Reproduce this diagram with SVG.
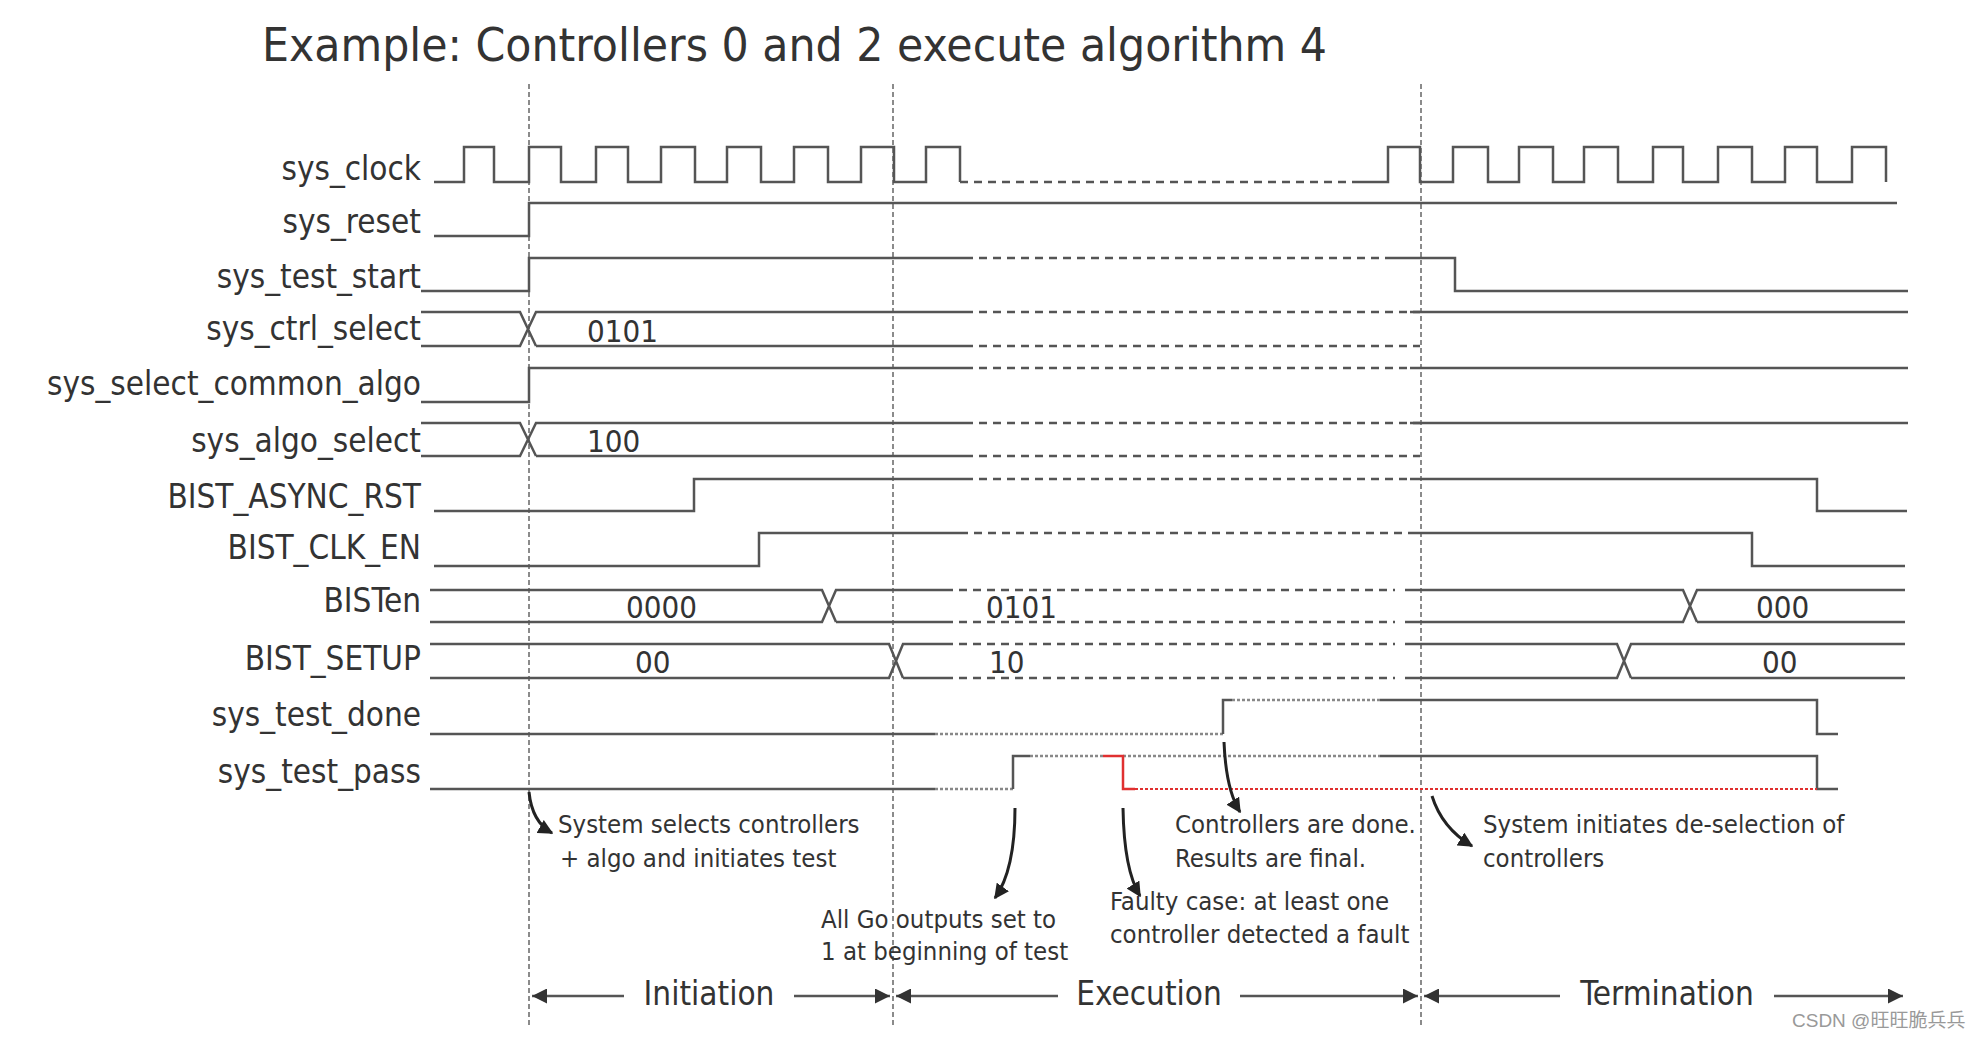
<svg xmlns="http://www.w3.org/2000/svg" width="1978" height="1038" viewBox="0 0 1978 1038">
<style>
.lbl{font-family:"DejaVu Sans Condensed","DejaVu Sans",sans-serif;font-size:33px;fill:#333;text-anchor:end}
.val{font-family:"DejaVu Sans Condensed","DejaVu Sans",sans-serif;font-size:31px;fill:#333}
.note{font-family:"DejaVu Sans Condensed","DejaVu Sans",sans-serif;font-size:25.5px;fill:#333}
.ph{font-family:"DejaVu Sans Condensed","DejaVu Sans",sans-serif;font-size:33px;fill:#333}
.s{fill:none;stroke:#555;stroke-width:2.5}
.d{fill:none;stroke:#555;stroke-width:2.5;stroke-dasharray:8 6}
.r{fill:none;stroke:#e03030;stroke-width:2.5}
.rd{fill:none;stroke:#e03030;stroke-width:2;stroke-dasharray:3 2}
.dt{fill:none;stroke:#888;stroke-width:2.5;stroke-dasharray:3 2}
.v{fill:none;stroke:#666;stroke-width:1.5;stroke-dasharray:5 3}
.a{fill:none;stroke:#222;stroke-width:3}
</style>
<defs>
<marker id="ah" viewBox="0 0 10 10" refX="9" refY="5" markerWidth="5" markerHeight="5" orient="auto"><path d="M0,0 L10,5 L0,10 z" fill="#222"/></marker>
<marker id="pa" viewBox="0 0 10 10" refX="10" refY="5" markerWidth="6" markerHeight="6" orient="auto"><path d="M0,0 L10,5 L0,10 z" fill="#333"/></marker>
</defs>
<text x="262" y="61" font-family="DejaVu Sans Condensed,DejaVu Sans,sans-serif" font-size="46" fill="#333" textLength="1065" lengthAdjust="spacingAndGlyphs">Example: Controllers 0 and 2 execute algorithm 4</text>
<g id="guides">
<line class="v" x1="529" y1="84" x2="529" y2="1025"/>
<line class="v" x1="893" y1="84" x2="893" y2="1025"/>
<line class="v" x1="1421" y1="84" x2="1421" y2="1025"/>
</g>
<g id="sys_clock">
<text class="lbl" x="421" y="180">sys_clock</text>
<path class="s" d="M434,182 H464 V147 H494 V182 H529 V147 H561 V182 H596 V147 H628 V182 H661 V147 H695 V182 H727 V147 H761 V182 H794 V147 H828 V182 H861 V147 H894 V182 H926 V147 H960 V182"/>
<path class="d" d="M960,182 H1360"/>
<path class="s" d="M1360,182 H1388 V147 H1420 V182 H1453 V147 H1488 V182 H1519 V147 H1553 V182 H1584 V147 H1618 V182 H1653 V147 H1683 V182 H1718 V147 H1752 V182 H1785 V147 H1817 V182 H1852 V147 H1886 V182"/>
</g>
<g id="sys_reset">
<text class="lbl" x="421" y="233">sys_reset</text>
<path class="s" d="M434,236 H529 V203 H1897"/>
</g>
<g id="sys_test_start">
<text class="lbl" x="421" y="288">sys_test_start</text>
<path class="s" d="M421,291 H529 V258 H965"/>
<path class="d" d="M965,258 H1390"/>
<path class="s" d="M1390,258 H1455 V291 H1908"/>
</g>
<g id="sys_ctrl_select">
<text class="lbl" x="421" y="340">sys_ctrl_select</text>
<path class="s" d="M421,312 H520 L536,346 M421,346 H520 L536,312 H965 M536,346 H965"/>
<path class="d" d="M965,312 H1420 M965,346 H1420"/>
<path class="s" d="M1410,312 H1908"/>
<text class="val" x="587" y="342">0101</text>
</g>
<g id="sys_select_common_algo">
<text class="lbl" x="421" y="395">sys_select_common_algo</text>
<path class="s" d="M421,402 H529 V368 H965"/>
<path class="d" d="M965,368 H1410"/>
<path class="s" d="M1410,368 H1908"/>
</g>
<g id="sys_algo_select">
<text class="lbl" x="421" y="452">sys_algo_select</text>
<path class="s" d="M421,423 H520 L536,456 M421,456 H520 L536,423 H965 M536,456 H965"/>
<path class="d" d="M965,423 H1420 M965,456 H1420"/>
<path class="s" d="M1410,423 H1908"/>
<text class="val" x="587" y="452">100</text>
</g>
<g id="BIST_ASYNC_RST">
<text class="lbl" x="421" y="508">BIST_ASYNC_RST</text>
<path class="s" d="M434,511 H694 V479 H965"/>
<path class="d" d="M965,479 H1410"/>
<path class="s" d="M1410,479 H1817 V511 H1907"/>
</g>
<g id="BIST_CLK_EN">
<text class="lbl" x="421" y="559">BIST_CLK_EN</text>
<path class="s" d="M434,566 H759 V533 H960"/>
<path class="d" d="M960,533 H1410"/>
<path class="s" d="M1410,533 H1752 V566 H1905"/>
</g>
<g id="BISTen">
<text class="lbl" x="421" y="612">BISTen</text>
<path class="s" d="M430,590 H822 L836,622 M430,622 H822 L836,590 H945 M836,622 H945"/>
<path class="d" d="M945,590 H1395 M945,622 H1395"/>
<path class="s" d="M1405,590 H1683 L1697,622 M1405,622 H1683 L1697,590 H1905 M1697,622 H1905"/>
<text class="val" x="626" y="618">0000</text>
<text class="val" x="986" y="618">0101</text>
<text class="val" x="1756" y="618">000</text>
</g>
<g id="BIST_SETUP">
<text class="lbl" x="421" y="670">BIST_SETUP</text>
<path class="s" d="M430,644 H889 L903,678 M430,678 H889 L903,644 H945 M903,678 H945"/>
<path class="d" d="M945,644 H1395 M945,678 H1395"/>
<path class="s" d="M1405,644 H1617 L1631,678 M1405,678 H1617 L1631,644 H1905 M1631,678 H1905"/>
<text class="val" x="635" y="673">00</text>
<text class="val" x="989" y="673">10</text>
<text class="val" x="1762" y="673">00</text>
</g>
<g id="sys_test_done">
<text class="lbl" x="421" y="726">sys_test_done</text>
<path class="s" d="M430,734 H935"/>
<path class="dt" d="M935,734 H1223"/>
<path class="s" d="M1223,734 V700 H1232"/>
<path class="dt" d="M1232,700 H1380"/>
<path class="s" d="M1380,700 H1817 V734 H1838"/>
</g>
<g id="sys_test_pass">
<text class="lbl" x="421" y="783">sys_test_pass</text>
<path class="s" d="M430,789 H935"/>
<path class="dt" d="M935,789 H1013"/>
<path class="s" d="M1013,789 V756 H1030"/>
<path class="dt" d="M1030,756 H1103 M1123,756 H1380"/>
<path class="s" d="M1380,756 H1817 V789 H1838"/>
<path class="r" d="M1103,756 H1123 V789 H1135"/>
<path class="rd" d="M1135,789 H1817"/>
</g>
<g id="connectors">
<path class="a" marker-end="url(#ah)" d="M529,792 Q532,822 552,833"/>
<path class="a" marker-end="url(#ah)" d="M1015,808 Q1015,870 995,898"/>
<path class="a" marker-end="url(#ah)" d="M1123,808 Q1124,870 1140,896"/>
<path class="a" marker-end="url(#ah)" d="M1224,742 Q1226,790 1240,812"/>
<path class="a" marker-end="url(#ah)" d="M1432,796 Q1442,828 1472,846"/>
<line class="s" x1="624" y1="996" x2="532" y2="996" marker-end="url(#pa)"/>
<line class="s" x1="794" y1="996" x2="890" y2="996" marker-end="url(#pa)"/>
<line class="s" x1="1058" y1="996" x2="896" y2="996" marker-end="url(#pa)"/>
<line class="s" x1="1240" y1="996" x2="1418" y2="996" marker-end="url(#pa)"/>
<line class="s" x1="1560" y1="996" x2="1424" y2="996" marker-end="url(#pa)"/>
<line class="s" x1="1774" y1="996" x2="1903" y2="996" marker-end="url(#pa)"/>
</g>
<g id="notes">
<text class="note" x="558" y="833">System selects controllers</text>
<text class="note" x="560" y="867">+ algo and initiates test</text>
<text class="note" x="821" y="928">All Go outputs set to</text>
<text class="note" x="821" y="960">1 at beginning of test</text>
<text class="note" x="1110" y="910">Faulty case: at least one</text>
<text class="note" x="1110" y="943">controller detected a fault</text>
<text class="note" x="1175" y="833">Controllers are done.</text>
<text class="note" x="1175" y="867">Results are final.</text>
<text class="note" x="1483" y="833">System initiates de-selection of</text>
<text class="note" x="1483" y="867">controllers</text>
<text class="ph" x="709" y="1005" text-anchor="middle">Initiation</text>
<text class="ph" x="1149" y="1005" text-anchor="middle">Execution</text>
<text class="ph" x="1667" y="1005" text-anchor="middle">Termination</text>
<text x="1792" y="1027" font-family="Liberation Sans,Noto Sans CJK SC,sans-serif" font-size="19" fill="#999">CSDN @旺旺脆兵兵</text>
</g>
</svg>
